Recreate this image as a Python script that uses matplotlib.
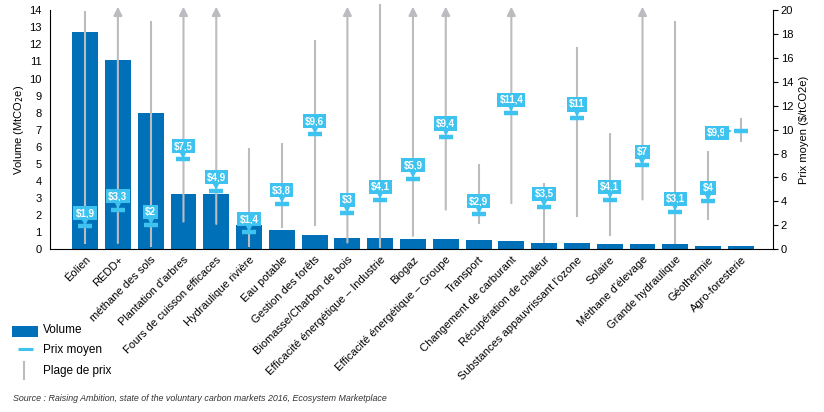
import numpy as np
import matplotlib
matplotlib.use("Agg")
import matplotlib.pyplot as plt
from matplotlib.patches import Rectangle
from matplotlib.lines import Line2D
from matplotlib.transforms import offset_copy

plt.rcParams['font.family'] = ['Liberation Sans', 'DejaVu Sans']

BLEU = '#0070b8'
BLEU_CLAIR = '#3ec3f0'
GRIS = '#bcbcc0'

categories = ["Éolien", "REDD+", "méthane des sols", "Plantation d'arbres",
              "Fours de cuisson efficaces", "Hydraulique rivière", "Eau potable",
              "Gestion des forêts", "Biomasse/Charbon de bois",
              "Efficacité énergétique – Industrie", "Biogaz",
              "Efficacité énergétique – Groupe", "Transport",
              "Changement de carburant", "Récupération de chaleur",
              "Substances appauvrissant l'ozone", "Solaire", "Méthane d'élevage",
              "Grande hydraulique", "Géothermie", "Agro-foresterie"]

# volume en MtCO2e
volume = [12.7, 11.1, 8.0, 3.2, 3.2, 1.4, 1.1, 0.8, 0.65, 0.65, 0.6, 0.6,
          0.5, 0.45, 0.38, 0.38, 0.3, 0.3, 0.28, 0.15, 0.15]

# prix moyen en $/tCO2e
prix_moyen = [1.9, 3.3, 2.0, 7.5, 4.9, 1.4, 3.8, 9.6, 3.0, 4.1, 5.9, 9.4,
              2.9, 11.4, 3.5, 11.0, 4.1, 7.0, 3.1, 4.0, 9.9]

# plage de prix (min / max), fleche = depasse 20
prix_min = [0.4, 0.5, 0.2, 2.3, 2.1, 0.2, 1.8, 1.95, 0.55, 0.05, 1.1, 3.3,
            2.1, 3.85, 0.5, 2.65, 1.1, 4.15, 0.45, 2.4, 8.95]
prix_max = [19.9, 20.3, 19.1, 20.3, 20.3, 8.5, 8.9, 17.5, 20.3, 20.5, 20.3, 20.3,
            7.1, 20.3, 5.55, 16.9, 9.75, 20.3, 19.1, 8.2, 11.0]
fleche = [False, True, False, True, True, False, False, False, True, False, True, True,
          False, True, False, False, False, True, False, False, False]

x = np.arange(len(categories))

fig = plt.figure(figsize=(8.24, 4.12), dpi=100)
ax = fig.add_axes([0.0607, 0.3956, 0.8774, 0.5794])
ax2 = ax.twinx()

ax.bar(x, volume, width=0.79, color=BLEU, zorder=1)
ax.set_xlim(-1.07, 20.98)
ax.set_ylim(0, 14)
ax.set_yticks(range(0, 15))
ax.tick_params(axis='y', length=0, labelsize=8, pad=6)
ax.set_ylabel("Volume (MtCO$_2$e)", fontsize=8, labelpad=2)
ax.set_xticks(x)
ax.set_xticklabels(categories, rotation=45, ha='right', rotation_mode='anchor', fontsize=8)
ax.tick_params(axis='x', length=0, pad=4)
for s in ['top', 'right']:
    ax.spines[s].set_visible(False)

ax2.set_ylim(0, 20)
ax2.set_yticks(range(0, 21, 2))
ax2.tick_params(axis='y', length=3.5, labelsize=8, pad=2)
ax2.set_ylabel("Prix moyen (\\$/tCO2e)", fontsize=8, labelpad=4)
for s in ['top', 'left', 'bottom']:
    ax2.spines[s].set_visible(False)
ax2.set_zorder(ax.get_zorder() + 1)
ax2.patch.set_visible(False)

# plages de prix
for i in x:
    if fleche[i]:
        ax2.annotate("", xy=(i, prix_max[i]), xytext=(i, prix_min[i]),
                     xycoords='data', annotation_clip=False,
                     arrowprops=dict(arrowstyle='-|>,head_width=0.25,head_length=0.5',
                                     color=GRIS, lw=1.5, shrinkA=0, shrinkB=0))
    else:
        ax2.vlines(i, prix_min[i], prix_max[i], color=GRIS, lw=1.5, clip_on=False)

# prix moyen
ax2.plot(x, prix_moyen, linestyle='None', marker='_', markersize=9.5,
         markeredgewidth=3.2, color=BLEU_CLAIR, zorder=3)

# etiquettes
for i in x:
    txt = "\\$" + f"{prix_moyen[i]:g}".replace('.', ',')
    if i == len(x) - 1:
        dx, dy = -24, -2
        pointer, pdx, pdy = '>', -13, 0
    else:
        dx, dy = 0, 13.3
        pointer, pdx, pdy = 'v', 0, 4.6
    ax2.annotate(txt, xy=(i, prix_moyen[i]), xytext=(dx * 0.72, dy * 0.72),
                 textcoords='offset points', ha='center', va='center',
                 fontsize=7, color='white', fontweight='bold',
                 family=['Liberation Sans Narrow', 'Liberation Sans'],
                 bbox=dict(boxstyle='square,pad=0.22', fc=BLEU_CLAIR, ec='none'),
                 zorder=4)
    tr = offset_copy(ax2.transData, fig=fig, x=pdx, y=pdy, units='dots')
    ax2.plot([i], [prix_moyen[i]], marker=pointer, markersize=6, color=BLEU_CLAIR,
             markeredgewidth=0, transform=tr, zorder=4)

# legende (dessinee a la main)
fig.add_artist(Rectangle((0.01456, 0.182), 0.03155, 0.0274, transform=fig.transFigure,
                         facecolor=BLEU, edgecolor='none'))
fig.add_artist(Line2D([0.0218, 0.0397], [0.1517, 0.1517], transform=fig.transFigure,
                      color=BLEU_CLAIR, lw=2.2, solid_capstyle='butt'))
fig.add_artist(Line2D([0.0295, 0.0295], [0.0801, 0.1221], transform=fig.transFigure,
                      color=GRIS, lw=1.5))
for ty, lab in zip([0.1983, 0.1512, 0.1002], ["Volume", "Prix moyen", "Plage de prix"]):
    fig.text(0.0526, ty, lab, fontsize=8.5, va='center', ha='left')

fig.text(0.016, 0.027, "Source : Raising Ambition, state of the voluntary carbon markets 2016, "
         "Ecosystem Marketplace", fontsize=6.4, style='italic', color='#333333')

fig.savefig("out.png", dpi=100)
